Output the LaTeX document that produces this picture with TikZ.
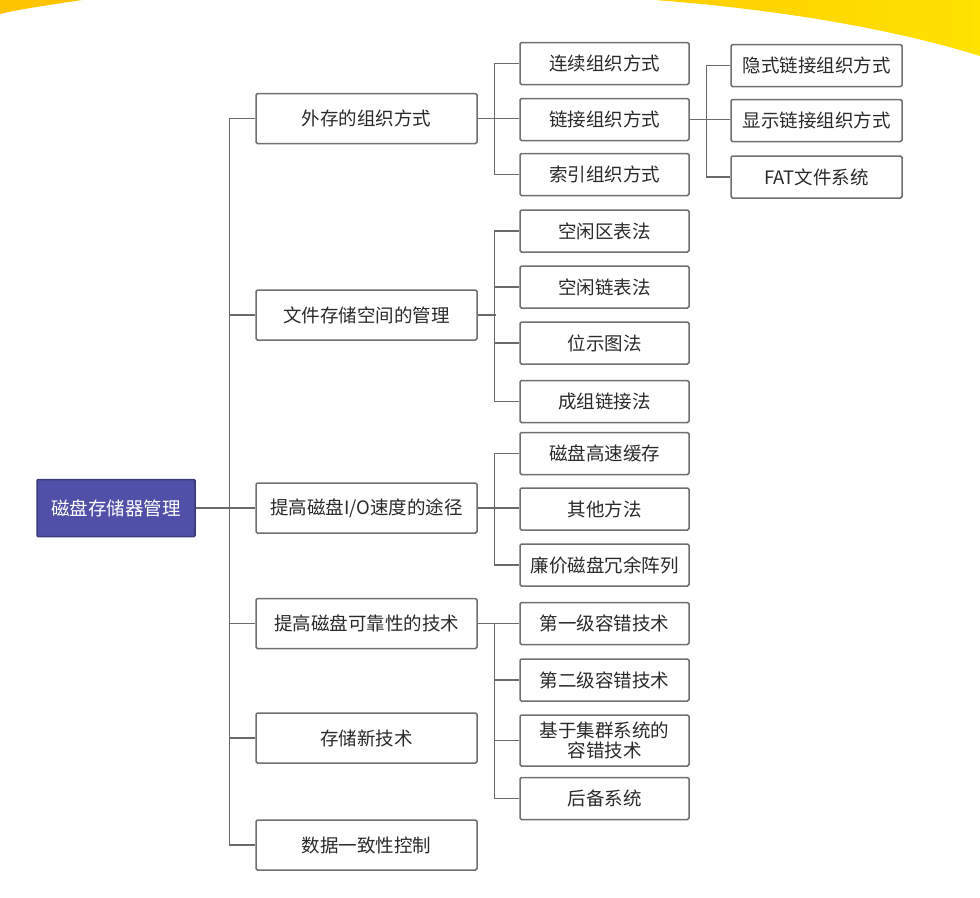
\documentclass[tikz,border=0pt]{standalone}
\usepackage{fontspec}
\newfontfamily\cjk{Noto Sans CJK SC}
\definecolor{boxgray}{HTML}{707070}
\definecolor{linegray}{HTML}{6A6A6A}
\definecolor{txtgray}{HTML}{2A2A2A}
\definecolor{rootblue}{HTML}{5050A8}
\definecolor{rootedge}{HTML}{3A3A78}
\definecolor{yel}{HTML}{FFE200}
\definecolor{yelo}{HTML}{FFC400}
\begin{document}
\begin{tikzpicture}[x=1pt,y=-1pt,
  box/.style={draw=boxgray,line width=1.5pt,fill=white,rounded corners=1.5pt,inner sep=0pt,align=center,text=txtgray,font=\cjk\fontsize{18.5}{21}\selectfont},
  lvone/.style={box,minimum width=221pt,minimum height=50pt},
  lvtwo/.style={box,minimum width=169pt,minimum height=42pt},
  lvthree/.style={box,minimum width=171pt,minimum height=42pt},
  rootbox/.style={box,draw=rootedge,fill=rootblue,text=white,minimum width=158pt,minimum height=57pt,rounded corners=1pt},
  conn/.style={draw=linegray,line width=1.3pt}]
\useasboundingbox (0,0) rectangle (980,897);
\fill[white] (0,0) rectangle (980,897);
% decorative yellow swooshes
\fill[yelo] (0,0) -- (82,0) .. controls (50,5) and (20,9) .. (0,14) -- cycle;
\shade[left color=yel!80!orange,right color=yel] (655,0) .. controls (760,8) and (880,25) .. (980,56) -- (980,0) -- cycle;
% root
\node[rootbox] (root) at (116,508) {磁盘存储器管理};
% level one
\node[lvone] (a1) at (366.5,118.5) {外存的组织方式};
\node[lvone] (a2) at (366.5,315) {文件存储空间的管理};
\node[lvone] (a3) at (366.5,508) {提高磁盘I/O速度的途径};
\node[lvone] (a4) at (366.5,623.5) {提高磁盘可靠性的技术};
\node[lvone] (a5) at (366.5,738) {存储新技术};
\node[lvone] (a6) at (366.5,845) {数据一致性控制};
% level two
\node[lvtwo] (b11) at (604.5,63.5) {连续组织方式};
\node[lvtwo] (b12) at (604.5,119.5) {链接组织方式};
\node[lvtwo] (b13) at (604.5,174.5) {索引组织方式};
\node[lvtwo] (b21) at (604.5,231) {空闲区表法};
\node[lvtwo] (b22) at (604.5,287) {空闲链表法};
\node[lvtwo] (b23) at (604.5,343) {位示图法};
\node[lvtwo] (b24) at (604.5,401.5) {成组链接法};
\node[lvtwo] (b31) at (604.5,453.5) {磁盘高速缓存};
\node[lvtwo] (b32) at (604.5,509) {其他方法};
\node[lvtwo] (b33) at (604.5,565) {廉价磁盘冗余阵列};
\node[lvtwo] (b41) at (604.5,623.5) {第一级容错技术};
\node[lvtwo] (b42) at (604.5,680) {第二级容错技术};
\node[lvtwo,minimum height=51pt,font=\cjk\fontsize{18.5}{20}\selectfont] (b43) at (604.5,740.5) {基于集群系统的\\容错技术};
\node[lvtwo] (b44) at (604.5,798.5) {后备系统};
% level three
\node[lvthree] (c1) at (816.5,65.5) {隐式链接组织方式};
\node[lvthree] (c2) at (816.5,120.5) {显示链接组织方式};
\node[lvthree] (c3) at (816.5,177) {FAT文件系统};
% trunk from root
\draw[conn] (root.east) -- (root.east -| a3.west);
\draw[conn] (a1.west) -- ++(-26,0) |- (a6.west);
\foreach \n in {a2,a4,a5} \draw[conn] (\n.west) -- ++(-26,0);
% group 1
\draw[conn] (a1.east) -- (a1.east -| b12.west);
\draw[conn] (b11.west) -- ++(-25,0) |- (b13.west);
% group 2
\draw[conn] (a2.east) -- ++(18,0);
\draw[conn] (b21.west) -- ++(-25,0) |- (b24.west);
\foreach \n in {b22,b23} \draw[conn] (\n.west) -- ++(-25,0);
% group 3
\draw[conn] (a3.east) -- (a3.east -| b32.west);
\draw[conn] (b31.west) -- ++(-25,0) |- (b33.west);
% group 4
\draw[conn] (a4.east) -- (a4.east -| b41.west);
\draw[conn] (b41.west) -- ++(-25,0) |- (b44.west);
\foreach \n in {b42,b43} \draw[conn] (\n.west) -- ++(-25,0);
% level three
\draw[conn] (b12.east) -- (b12.east -| c2.west);
\draw[conn] (c1.west) -- ++(-24,0) |- (c3.west);
\end{tikzpicture}
\end{document}
